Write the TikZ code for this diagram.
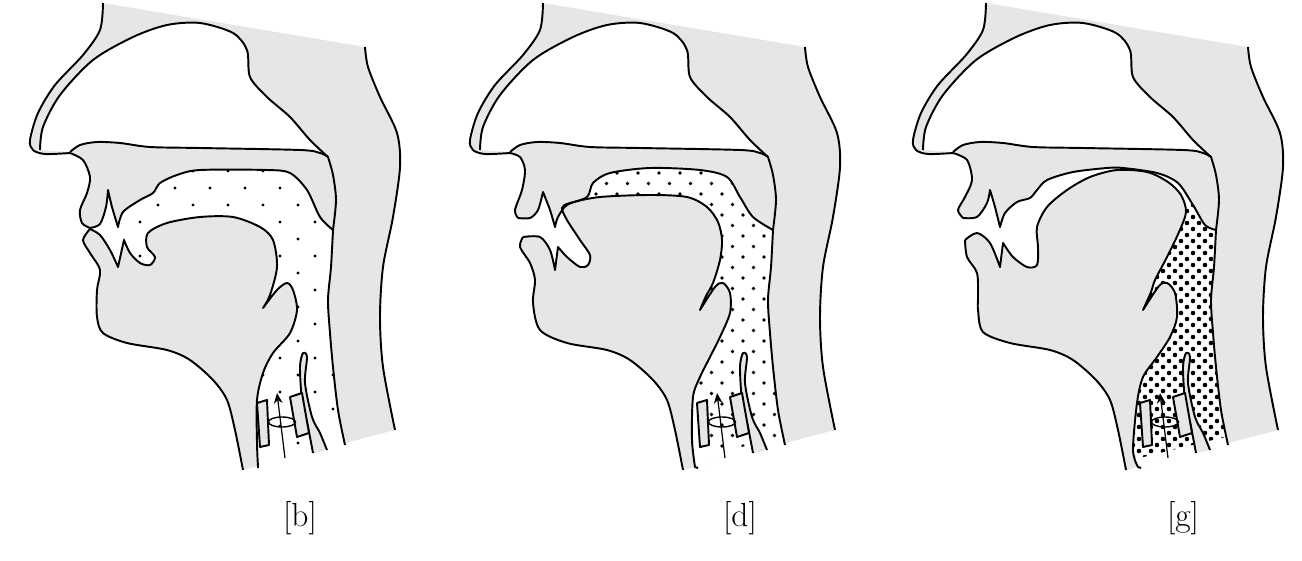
\documentclass[tikz,border=0pt]{standalone}
\usetikzlibrary{arrows.meta}
\definecolor{headgray}{RGB}{230,230,230}
\tikzset{
 ol/.style={line width=1.1pt,line join=round},
 neck/.style={insert path={-- plot[smooth] coordinates{(365,47)(368,67)(380,97)(397,133)(400,167)(393,217)(383,267)(380,317)(383,367)(395,430)}}},
 noseout/.style={insert path={-- plot[smooth] coordinates{(70,153)(45,154)(33,150)(30,140)(38,113)(55,85)(83,55)(100,30)(103,3)}}},
 nasal/.style={insert path={-- plot[smooth] coordinates{(40,150)(43,127)(60,95)(93,60)(133,37)(167,25)(200,23)(233,33)(247,50)(250,77)(267,97)(290,117)(310,140)(328,157)}}},
 velum/.style={insert path={-- plot[smooth] coordinates{(328,157)(333,175)(336,200)(333,230)}}},
 palate/.style={insert path={-- plot[smooth] coordinates{(328,157)(320,153)(300,150)(200,148)(150,147)(120,143)(97,142)(80,145)(70,152)}}},
 backwall/.style={insert path={-- plot[smooth] coordinates{(333,230)(331,267)(328,300)(330,333)(333,367)(338,410)(345,445)}}},
 roofA/.style={insert path={-- plot[smooth] coordinates{(90,228)(100,224)(106,207)(108,190)} -- plot[smooth] coordinates{(108,190)(112,207)(118,227)} -- plot[smooth] coordinates{(118,227)(123,212)(140,200)(153,193)(160,183)(177,175)(200,170)(267,170)(290,173)(307,190)(320,217)(333,230)}}},
 tongueA/.style={insert path={-- plot[smooth] coordinates{(258,467)(257,443)(257,400)(263,373)(273,353)(290,333)(297,310)(293,290)(287,283)(277,290)(263,308)} -- plot[smooth] coordinates{(263,308)(270,295)(277,267)(273,240)(260,227)(233,217)(200,217)(167,223)(148,233)(147,247)(155,257)(150,265)(140,263)(130,253)(124,240)} -- (118,267) -- plot[smooth] coordinates{(118,267)(110,250)(100,235)(90,229)}}},
 chinA/.style={insert path={-- plot[smooth] coordinates{(243,470)(235,430)(227,400)(213,380)(190,360)(167,350)(127,343)(103,333)(97,317)(97,290)(100,270)(90,253)(83,240)(90,229)}}},
 ulipA/.style={insert path={-- plot[smooth] coordinates{(90,228)(82,223)(80,210)(87,193)(90,177)(83,160)(70,153)}}},
 roofB/.style={insert path={-- plot[smooth] coordinates{(78,218)(90,218)(98,210)(103,192)} -- plot[smooth] coordinates{(103,192)(110,210)(115,227)} -- plot[smooth] coordinates{(115,227)(118,217)(127,205)(147,197)(153,183)(170,173)(210,168)(260,170)(287,177)(300,197)(313,217)(333,230)}}},
 tongueB/.style={insert path={-- plot[smooth] coordinates{(255,467)(252,440)(253,397)(260,377)(270,357)(280,337)(290,313)(290,293)(283,283)(275,287)(260,310)} -- plot[smooth] coordinates{(260,310)(266,296)(273,283)(280,260)(282,240)(278,222)(267,207)(247,197)(210,195)(160,197)(130,203)(122,208)(127,220)(140,240)(150,255)(148,265)(140,267)(127,257)(118,247)} -- (115,270) -- plot[smooth] coordinates{(115,270)(110,250)(100,237)(83,237)}}},
 chinB/.style={insert path={-- plot[smooth] coordinates{(243,470)(235,430)(227,400)(213,380)(190,360)(167,350)(127,343)(100,330)(93,303)(95,280)(90,263)(80,247)(83,237)}}},
 ulipB/.style={insert path={-- plot[smooth] coordinates{(78,218)(75,210)(82,190)(85,170)(80,157)(70,153)}}},
 roofC/.style={insert path={-- plot[smooth] coordinates{(80,218)(94,217)(104,203)(107,190)} -- plot[smooth] coordinates{(107,190)(112,207)(117,227)} -- plot[smooth] coordinates{(117,227)(122,213)(134,202)(147,198)(154,190)(164,180)(190,172)(224,168)(240,168)(274,173)(295,183)(310,205)(322,225)(333,230)}}},
 tongueC/.style={insert path={-- plot[smooth] coordinates{(255,467)(250,450)(254,403)(260,377)(274,357)(287,337)(294,317)(292,293)(284,283)(276,286)(260,310)} -- plot[smooth] coordinates{(260,310)(268,292)(272,280)(284,257)(296,232)(303,212)(298,195)(285,182)(264,172)(234,170)(207,177)(184,190)(164,207)(154,227)(155,247)(154,265)(144,267)(130,257)(120,243)} -- (117,267) -- plot[smooth] coordinates{(117,267)(107,243)(94,233)(82,240)}}},
 chinC/.style={insert path={-- plot[smooth] coordinates{(243,470)(235,430)(227,400)(213,380)(190,360)(167,350)(127,343)(100,332)(95,310)(95,297)(94,273)(84,257)(82,240)}}},
 ulipC/.style={insert path={-- plot[smooth] coordinates{(80,218)(75,210)(82,197)(89,180)(84,160)(70,153)}}},
}
\newcommand\headpanel[5]{%
\begin{scope}[shift={(#2,0)}]
 \fill[headgray] (103,3) -- (365,47) [neck] -- (243,470) [chin#1] [ulip#1] [noseout] -- cycle;
 \fill[white] (40,150) [nasal] [palate] -- cycle;
 \fill[white] #5 [roof#1] [backwall] [tongue#1] -- cycle;
 \begin{scope}
  \clip #5 [roof#1] [backwall] [tongue#1] -- cycle;
  \clip (0,0) -- (420,0) -- (420,418) -- (240,462) -- cycle;
  #3
 \end{scope}
 \draw[ol] #5 [ulip#1] [noseout];
 \draw[ol] (243,470) [chin#1];
 \draw[ol] #5 [roof#1];
 \draw[ol] (258,468) [tongue#1];
 \draw[ol] (40,150) [nasal] [velum] [backwall];
 \draw[ol] (328,157) [palate];
 \draw[ol] (365,47) [neck];
 \filldraw[ol,fill=headgray] plot[smooth] coordinates{(313,453)(308,427)(302,400)(300,367)(303,353)(307,357)(305,383)(312,417)(320,433)(327,450)};
 \filldraw[ol,fill=headgray] (257,403) -- (267,400) -- (269,445) -- (260,447) -- cycle;
 \filldraw[ol,fill=headgray] (290,397) -- (302,393) -- (309,433) -- (297,437) -- cycle;
 \draw[line width=0.8pt] (282,422) ellipse[x radius=0.27cm, y radius=0.1cm];
 \draw[line width=0.7pt,-{Stealth[length=6pt,width=5pt]}] (285,458) -- (277,393);
 \node[font=\fontsize{19}{22}\selectfont] (lab#1) at (300,518) {#4};
\end{scope}}
\begin{document}
\begin{tikzpicture}[x=0.02cm,y=-0.02cm]
\useasboundingbox (0,0) rectangle (1302,561);
\headpanel{A}{0}{%
 \foreach \yy in {171,205,...,460}{\foreach \xx in {88,123,...,345}{\fill (\xx,\yy) circle[radius=0.9pt];}}
 \foreach \yy in {188,222,...,460}{\foreach \xx in {105,140,...,345}{\fill (\xx,\yy) circle[radius=0.9pt];}}
}{[b]}{(90,228)}
\headpanel{B}{440}{%
 \clip (142,150) rectangle (360,470);
 \foreach \yy in {173,194,...,460}{\foreach \xx in {93,114,...,345}{\fill (\xx,\yy) circle[radius=1.1pt];}}
 \foreach \yy in {183.5,204.5,...,460}{\foreach \xx in {103.5,124.5,...,345}{\fill (\xx,\yy) circle[radius=1.1pt];}}
}{[d]}{(78,218)}
\headpanel{C}{883}{%
 \clip (250,203) rectangle (360,470);
 \foreach \yy in {205,217,...,460}{\foreach \xx in {250,262,...,345}{\fill (\xx,\yy) circle[radius=1.3pt];}}
 \foreach \yy in {211,223,...,460}{\foreach \xx in {256,268,...,345}{\fill (\xx,\yy) circle[radius=1.3pt];}}
}{[g]}{(80,218)}
\end{tikzpicture}
\end{document}
